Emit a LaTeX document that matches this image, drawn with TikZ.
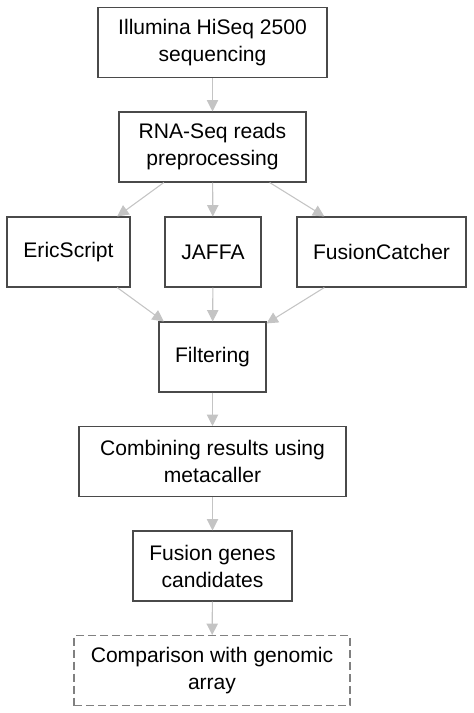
\documentclass[tikz,border=0pt]{standalone}
\usepackage{fontspec}
\setmainfont{Liberation Sans}
\usetikzlibrary{arrows.meta}
\definecolor{boxline}{HTML}{4A4A4A}
\definecolor{dashline}{HTML}{808080}
\definecolor{flowgray}{HTML}{C4C4C4}
\begin{document}
\begin{tikzpicture}
  [x=0.75pt, y=-0.75pt,
    every node/.style={draw=boxline,line width=0.8pt,inner sep=0pt,align=center,
      minimum height=52.5pt,font=\fontsize{15.8}{20.25}\selectfont},
    flow/.style={draw=flowgray,line width=0.8pt,-{Triangle[length=8.5pt,width=8.5pt]}},
    planned/.style={draw=dashline,dash pattern=on 6pt off 3pt},
]
  \useasboundingbox (0,0) rectangle (474,713);
  \node[minimum width=171.75pt] (illumina) at (212.5,42.5) {Illumina HiSeq 2500\\sequencing};
  \node[minimum width=140.25pt] (preproc) at (212.5,147) {RNA-Seq reads\\preprocessing};
  \node[minimum width=92.25pt] (eric) at (68.5,252) {EricScript};
  \node[minimum width=72pt] (jaffa) at (213,252) {JAFFA};
  \node[minimum width=126.75pt] (fcatch) at (381.5,252) {FusionCatcher};
  \node[minimum width=80.25pt] (filter) at (212.5,357) {Filtering};
  \node[minimum width=200.25pt] (combine) at (212.5,461.5) {Combining results using\\metacaller};
  \node[minimum width=119.25pt] (fusion) at (212.5,566) {Fusion genes\\candidates};
  \node[planned,minimum width=207pt] (compare) at (212,670.5) {Comparison with genomic\\array};

  \draw[flow] (illumina) -- (preproc);
  \foreach \caller in {eric,jaffa,fcatch}
    {\draw[flow] (preproc) -- (\caller);
     \draw[flow] (\caller) -- (filter);}
  \draw[flow] (filter) -- (combine);
  \draw[flow] (combine) -- (fusion);
  \draw[flow] (fusion) -- (compare);
\end{tikzpicture}
\end{document}
